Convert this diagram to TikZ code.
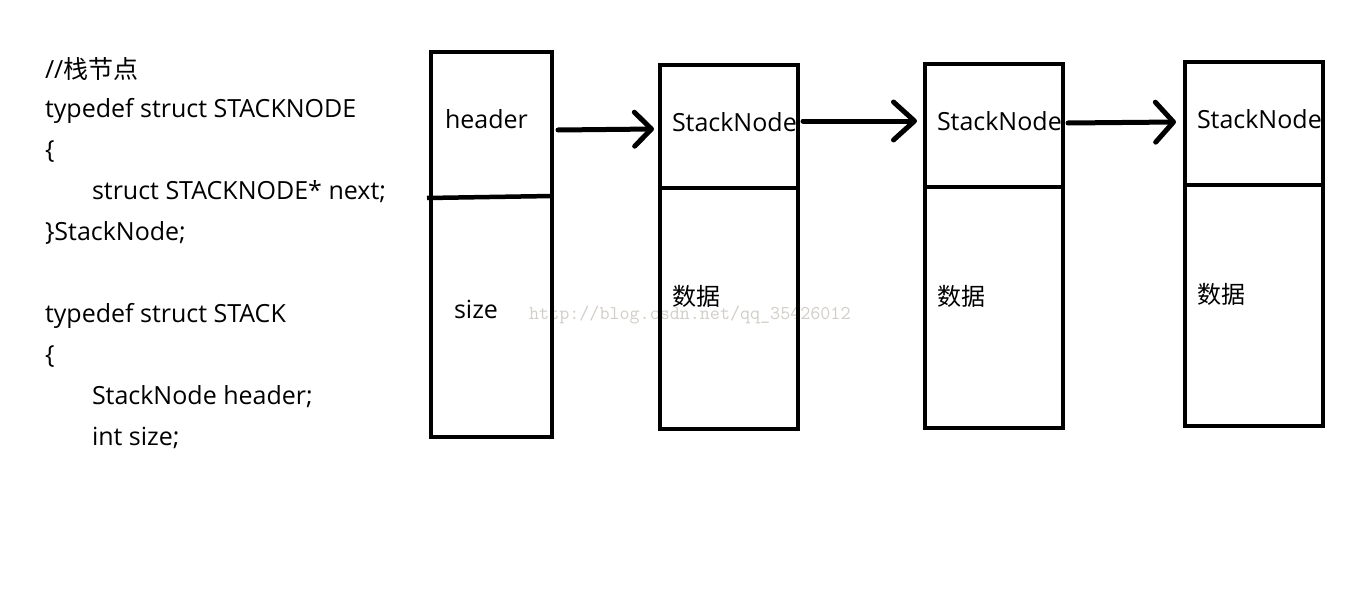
\documentclass[tikz,border=0pt]{standalone}
\usepackage{fontspec}
\setmainfont{Open Sans}
\newfontfamily\cjk{Noto Sans CJK SC}
\usetikzlibrary{arrows.meta,calc}
\definecolor{wmgray}{HTML}{D2CEC8}
\begin{document}
\begin{tikzpicture}[x=1pt,y=-1pt,
  box/.style={draw, line width=4.5pt, outer sep=0pt, inner sep=0pt, anchor=north west},
  divider/.style={line width=4.5pt},
  txt/.style={anchor=base west, inner sep=0pt, outer sep=0pt, font=\fontsize{25}{29}\selectfont},
  cjktxt/.style={anchor=base west, inner sep=0pt, outer sep=0pt, font=\fontsize{24}{28}\selectfont\cjk},
  arr/.style={line width=5pt, line cap=round}
]
\fill[white] (0,0) rectangle (1360,605);
\useasboundingbox (0,0) rectangle (1360,605);

% watermark
\node[anchor=base west, inner sep=0pt, text=wmgray, font=\fontsize{19.5}{22}\selectfont\ttfamily] (wm) at (529,319) {http://blog.csdn.net/qq\_35426012};

% code
\node[txt] (c1) at (45,78) {//{\cjk 栈节点}};
\node[txt] (c2) at (45,117) {typedef struct STACKNODE};
\node[txt] (c3) at (45,158) {\{};
\node[txt] (c4) at (92,199) {struct STACKNODE* next;};
\node[txt] (c5) at (45,240) {\}StackNode;};
\node[txt] (c6) at (45,322) {typedef struct STACK};
\node[txt] (c7) at (45,363) {\{};
\node[txt] (c8) at (92,404) {StackNode header;};
\node[txt] (c9) at (92,445) {int size;};

% boxes
\node[box, minimum width=121pt, minimum height=385pt] (b1) at (431,52) {};
\node[box, minimum width=138pt, minimum height=364pt] (b2) at (660,65) {};
\node[box, minimum width=138pt, minimum height=364pt] (b3) at (925,64) {};
\node[box, minimum width=138pt, minimum height=364pt] (b4) at (1185,62) {};

% dividers
\draw[divider] ($(b1.west |- 0,198)+(-4,0)$) -- (b1.east |- 0,196);
\draw[divider] (b2.west |- 0,188) -- (b2.east |- 0,188);
\draw[divider] (b3.west |- 0,187) -- (b3.east |- 0,187);
\draw[divider] (b4.west |- 0,185) -- (b4.east |- 0,185);

% labels
\node[txt] (lh) at (445,128) {header};
\node[txt] (ls) at (454,318) {size};
\node[txt] (n2) at (672,131) {StackNode};
\node[txt] (n3) at (937,130) {StackNode};
\node[txt] (n4) at (1197,128) {StackNode};
\node[cjktxt] (d2) at (672,305) {数据};
\node[cjktxt] (d3) at (937,305) {数据};
\node[cjktxt] (d4) at (1197,303) {数据};

% arrows
\draw[arr, -{Straight Barb[length=17pt,width=34pt,round]}]
  ($(b1.east |- 0,130)+(6,0)$) -- ($(b2.west |- 0,129)+(-6,0)$);
\draw[arr, -{Straight Barb[length=21pt,width=38pt,round]}]
  ($(b2.east |- 0,121)+(5,0)$) -- ($(b3.west |- 0,121)+(-8,0)$);
\draw[arr, -{Straight Barb[length=18pt,width=40pt,round]}]
  ($(b3.east |- 0,123)+(5,0)$) -- ($(b4.west |- 0,122)+(-9,0)$);
\end{tikzpicture}
\end{document}
